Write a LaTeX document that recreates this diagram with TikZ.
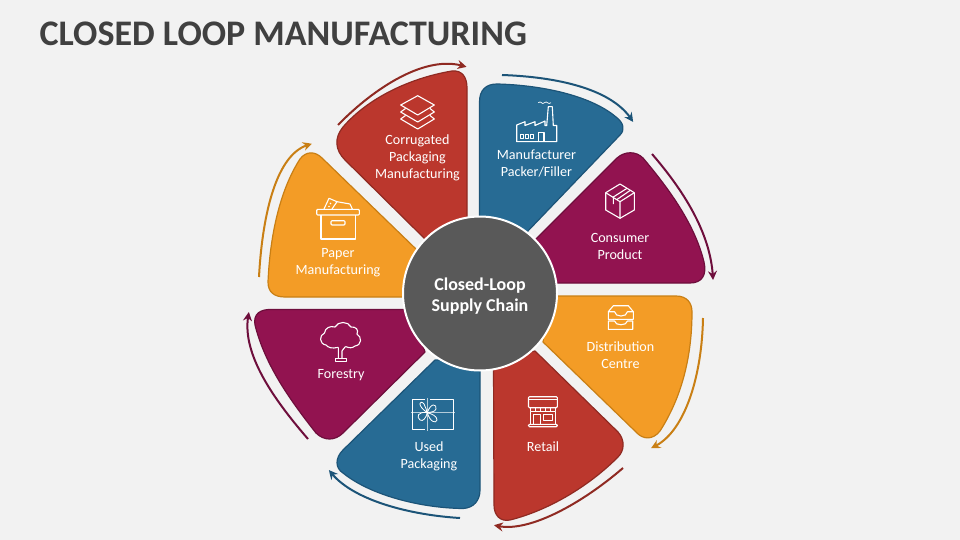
\documentclass[tikz,border=0pt]{standalone}
\usepackage{fontspec}
\setmainfont{Carlito}
\usetikzlibrary{arrows.meta,bending}
\definecolor{bgc}{HTML}{F2F2F2}
\definecolor{titlec}{HTML}{404040}
\definecolor{orangec}{HTML}{F39C26}
\definecolor{oranged}{HTML}{C97F14}
\definecolor{redc}{HTML}{BB372D}
\definecolor{redd}{HTML}{8F2A22}
\definecolor{bluec}{HTML}{276B94}
\definecolor{blued}{HTML}{1C5478}
\definecolor{magc}{HTML}{921350}
\definecolor{magd}{HTML}{6E0E3C}
\definecolor{hubc}{HTML}{595959}
\tikzset{
  petal/.style={line width=1.2,line join=round},
  flow/.style={line width=2,-{Stealth[length=9,width=9,inset=3,bend]}},
  lab/.style={text=white,align=center,font=\fontsize{14.1}{17}\selectfont},
  icon/.style={draw=white,line width=1.1,line join=round}
}
\begin{document}
\begin{tikzpicture}[x=1pt,y=-1pt]
\useasboundingbox (0,0) rectangle (960,540);
\fill[bgc] (0,0) rectangle (960,540);

\node[anchor=west,text=titlec,font=\fontsize{36}{36}\selectfont\bfseries] (title) at (36,33.5) {CLOSED LOOP MANUFACTURING};

% petals
\draw[petal,fill=redc,draw=redd] (426,240)--(345,160) .. controls (335,150) and (334,138) .. (343,127) .. controls (368,98) and (410,78) .. (452,71) .. controls (462,70) and (467,77) .. (467,88)--(467,235)--cycle;
\draw[petal,fill=bluec,draw=blued] (479.5,240)--(479.5,102) .. controls (479.5,90) and (486,84) .. (497,84) .. controls (540,85) and (590,95) .. (616,117) .. controls (624,123) and (625,130) .. (620,135)--(526,233)--cycle;
\draw[petal,fill=magc,draw=magd] (535,240)--(617,158) .. controls (625,151) and (636,151) .. (643,158) .. controls (670,190) and (695,225) .. (704,262) .. controls (707,275) and (702,283) .. (690,283)--(550,283)--cycle;
\draw[petal,fill=orangec,draw=oranged] (550,296)--(676,296) .. controls (687,296) and (692,303) .. (692,312) .. controls (692,360) and (680,400) .. (660,431) .. controls (653,440) and (643,440) .. (636,432)--(543,342)--cycle;
\draw[petal,fill=redc,draw=redd] (535,351)--(618,432) .. controls (625,440) and (625,451) .. (617,458) .. controls (590,485) and (550,510) .. (510,520) .. controls (500,522) and (494,515) .. (494,505)--(493.5,360)--cycle;
\draw[petal,fill=bluec,draw=blued] (435,360)--(343,450) .. controls (335,458) and (335,468) .. (343,473) .. controls (370,495) and (420,508) .. (463,508.5) .. controls (474,508) and (480,500) .. (480,490)--(480,360)--cycle;
\draw[petal,fill=magc,draw=magd] (425,352)--(343,433) .. controls (335,441) and (324,441) .. (316,433) .. controls (290,400) and (265,365) .. (255,325) .. controls (253,314) and (260,309) .. (272,309.5)--(410,309.5)--cycle;
\draw[petal,fill=orangec,draw=oranged] (417,250)--(322,158) .. controls (315,151) and (306,151) .. (300,159) .. controls (280,190) and (270,235) .. (268,282) .. controls (268,292) and (274,297) .. (285,297)--(410,297)--cycle;

% arrows round the wheel
\draw[flow,draw=redd] (338,125) .. controls (370,92) and (425,52) .. (466.5,67);
\draw[flow,draw=blued] (502,75) .. controls (560,77) and (615,90) .. (633,122);
\draw[flow,draw=magd] (652,154) .. controls (690,198) and (712,240) .. (713,280);
\draw[flow,draw=oranged] (703,318) .. controls (702,375) and (685,435) .. (651,448);
\draw[flow,draw=redd] (623,468) .. controls (580,505) and (525,535) .. (494,525);
\draw[flow,draw=blued] (460,518) .. controls (410,515) and (350,500) .. (329,470);
\draw[flow,draw=magd] (308,439) .. controls (270,395) and (240,350) .. (249,312);
\draw[flow,draw=oranged] (259,277) .. controls (262,220) and (275,150) .. (312,144);

% hub
\node[circle,fill=hubc,draw=white,line width=2,minimum size=154] (hub) at (480,293.5) {};
\node[text=white,align=center,font=\fontsize{18}{21}\selectfont\bfseries] (hubtext) at (480,296.5) {Closed-Loop\\Supply Chain};

% labels
\node[lab] (corrugated) at (417.5,157.5) {Corrugated\\Packaging\\Manufacturing};
\node[lab] (maker) at (536.5,163.5) {Manufacturer\\Packer/Filler};
\node[lab] (consumer) at (620,246) {Consumer\\Product};
\node[lab] (centre) at (620.5,355) {Distribution\\Centre};
\node[lab] (retail) at (543,447) {Retail};
\node[lab] (used) at (429,456) {Used\\Packaging};
\node[lab] (forestry) at (341,375) {Forestry};
\node[lab] (paper) at (338,262.5) {Paper\\Manufacturing};

% layers
\draw[icon] (417.7,95.7)--(434.3,105)--(417.7,115)--(400.7,105)--cycle;
\draw[icon] (405.5,108.5)--(400.7,112)--(417.7,122)--(434.3,112)--(430,108.5);
\draw[icon] (405.5,115.5)--(400.7,119)--(417.7,129)--(434.3,119)--(430,115.5);

% factory
\draw[icon] (516.7,141.7)--(516.7,125)--(525,121.7)--(525,125.5)--(535,121.7)--(535,125.5)--(545,121)--(545,125.5)--(546.7,125.5)--(548.3,106.7)--(552.3,106.7)--(553.3,125.5)--(556.7,125.5)--(556.7,141.7)--cycle;
\draw[icon,line width=0.8] (520,134) rectangle (523,138.7) (525,134) rectangle (528,138.7) (530,134) rectangle (533,138.7);
\draw[icon] (538.3,141.7)--(538.3,132.7)--(544,132.7)--(544,141.7);
\draw[icon,line width=0.7] (538.3,102.7) .. controls (541,100) and (542,105.5) .. (544.5,102.7) .. controls (547,100) and (548,105.5) .. (551,102.7);

% parcel
\draw[icon] (620,184)--(634.3,192.7)--(634.3,210)--(620,218.3)--(605.7,210)--(605.7,192.7)--cycle;
\draw[icon] (605.7,192.7)--(620,201.7)--(634.3,192.7) (620,201.7)--(620,218.3);
\draw[icon] (613.3,204)--(613.3,197)--(627,188.3);
\draw[icon] (617,199.5)--(630,190.5);

% trays
\draw[icon] (608.3,311.7)--(613.3,305.7)--(628.3,305.7)--(633.3,311.7)--(633.3,319.3)--(608.3,319.3)--cycle;
\draw[icon] (608.3,311.7)--(614.5,311.7) .. controls (615,317.5) and (627,317.5) .. (627.5,311.7)--(633.3,311.7);
\draw[icon] (608.3,321)--(608.3,329.3)--(632.7,329.3)--(632.7,321)--(627.5,321) .. controls (627,326) and (615,326) .. (614.5,321)--cycle;

% shop
\draw[icon,rounded corners=1] (528.5,396.7) rectangle (557.3,407.7);
\draw[icon,line width=0.7] (528.5,399)--(557.3,399);
\draw[icon,line width=0.7] (530.7,407.7)--(530.7,411.5)--(555.7,411.5)--(555.7,407.7) (535.7,407.7)--(535.7,411.5) (540.7,407.7)--(540.7,411.5) (545.7,407.7)--(545.7,411.5) (550.7,407.7)--(550.7,411.5);
\draw[icon,line width=0.8] (530.7,411.5)--(530.7,424.3) (555.7,411.5)--(555.7,424.3);
\draw[icon,rounded corners=1] (528.5,424.3) rectangle (557.3,426.7);
\draw[icon,line width=0.8] (533.3,424.3)--(533.3,414.3)--(540,414.3)--(540,424.3);
\draw[icon,line width=0.8] (543.3,414.3) rectangle (552.7,420.7);

% gift
\draw[icon,line width=0.8] (425,399.3)--(412.3,399.3)--(412.3,429.3)--(425,429.3) (430,429.3)--(453.3,429.3)--(453.3,399.3)--(430,399.3);
\draw[draw=white,draw opacity=0.65,line width=1.3] (411,412.7)--(455,412.7) (427.3,398.3)--(427.3,430.7);
\draw[icon,line width=0.8] (427.3,412.7) .. controls (416,405) and (420,399) .. (424,404) .. controls (426,407) and (426,410) .. (427.3,412.7);
\draw[icon,line width=0.8] (427.3,412.7) .. controls (431,402) and (437,404) .. (436,409) .. controls (435,412) and (431,412) .. (427.3,412.7);
\draw[icon,line width=0.8] (427.3,412.7) .. controls (418,411) and (416,417) .. (420,420) .. controls (423,422) and (426,418) .. (427.3,412.7);
\draw[icon,line width=0.8] (427.3,412.7) .. controls (430,422) and (436,424) .. (437,420) .. controls (437,416) and (432,414) .. (427.3,412.7);

% tree
\draw[icon] (338.3,347.3) .. controls (332,349) and (328,347.5) .. (326,345) .. controls (319,344) and (319,335) .. (324.5,333) .. controls (325,328) and (330,325.5) .. (335,327) .. controls (338,321) and (348,321) .. (351,327) .. controls (356,326.5) and (359,330) .. (357,334) .. controls (362,337) and (362,345) .. (355,346) .. controls (352,348.5) and (349,348) .. (345.5,346.5);
\draw[icon] (338.3,347.3)--(338.3,358.3) (345.5,346.5) .. controls (344,349) and (342,350) .. (342,351)--(342,358.3);
\draw[icon] (335.7,358.3) rectangle (346.7,361.3);

% archive box
\draw[icon,rounded corners=1] (316.7,209.3) rectangle (359.3,215);
\draw[icon] (321,215)--(321,239)--(355.3,239)--(355.3,215);
\draw[icon,rounded corners=1] (331,220.7) rectangle (345,225);
\draw[icon] (324,209)--(329,198.3)--(337,201.7)--(332,209);
\draw[icon] (337,201.7)--(350,204)--(352.3,209);
\fill[white] (330.5,203.5) circle (0.8) (329,206.5) circle (0.8);
\end{tikzpicture}
\end{document}
